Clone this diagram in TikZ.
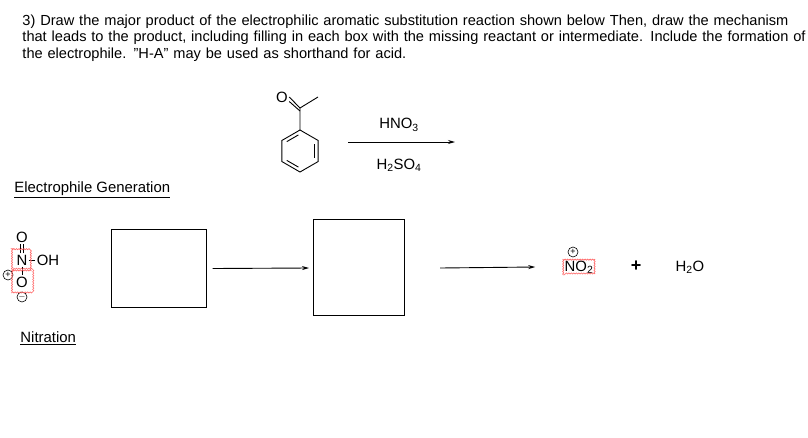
\documentclass[tikz,border=0pt]{standalone}
\usepackage{fontspec}
\setmainfont{Liberation Sans}
\usetikzlibrary{decorations.pathmorphing,calc,arrows.meta}
\begin{document}
\begin{tikzpicture}[x=1pt,y=-1pt,line width=0.9pt,
  txt/.style={inner sep=0pt,font=\fontsize{14.9}{16.5}\selectfont},
  atom/.style={inner sep=1pt,font=\fontsize{14.9}{16}\selectfont},
  chg/.style={circle,draw,line width=0.6pt,inner sep=0pt,minimum size=10pt,font=\fontsize{9}{9}\selectfont},
  wavy/.style={draw=red!60,line width=0.6pt,decorate,decoration={snake,amplitude=0.6pt,segment length=2.5pt}},
  box/.style={draw,line width=1pt},
  rxn/.style={-{Stealth[length=7pt,width=4pt]}}]
	\useasboundingbox (0,0) rectangle (808,437);
	\node[txt,font=\fontsize{14.6}{16.5}\selectfont,anchor=north west,align=left,text width=786pt] (q) at (22,14) {3) Draw the major product of the electrophilic aromatic substitution reaction shown below Then, draw the mechanism that leads to the product, including filling in each box with the missing reactant or intermediate. Include the formation of the electrophile. "H-A" may be used as shorthand for acid.};
	% acetophenone
	\foreach \i in {0,...,5} \coordinate (r\i) at ({300+21*sin(60*\i)},{151-21*cos(60*\i)});
	\draw (r0) -- (r1) -- (r2) -- (r3) -- (r4) -- (r5) -- cycle;
	\draw ($(r1)!0.18!(r2)+(-3.5,0)$) -- ($(r1)!0.82!(r2)+(-3.5,0)$);
	\draw ($(r3)!0.18!(r4)+(1.7,-3)$) -- ($(r3)!0.82!(r4)+(1.7,-3)$);
	\draw ($(r5)!0.18!(r0)+(1.7,3)$) -- ($(r5)!0.82!(r0)+(1.7,3)$);
	\coordinate (co) at (300,108);
	\coordinate (me) at (318,97);
	\node[atom] (o1) at (282,97) {O};
	\draw (r0) -- (co) -- (me);
	\draw (co) -- (o1.east);
	\draw ([yshift=-3pt]co) -- ([yshift=-4.5pt]o1.east);
	\coordinate (a0s) at (348,142);
	\coordinate (a0e) at (455,142);
	\draw[rxn] (a0s) -- (a0e);
	\node[txt] (hno3) at (399,125) {HNO\textsubscript{3}};
	\node[txt] (h2so4) at (399,165) {H\textsubscript{2}SO\textsubscript{4}};
	\node[txt,anchor=west] (eg) at (14,190) {\underline{Electrophile Generation}};
	% nitric acid
	\node[atom] (n) at (22,260) {N};
	\node[atom] (ot) at (22,237) {O};
	\node[atom] (oh) at (48,260) {OH};
	\node[atom] (ob) at (22,282) {O};
	\node[chg] (pl) at (8,275) {+};
	\node[chg] (mi) at (22,297) {$-$};
	\draw ([xshift=-1.4pt]n.north) -- ([xshift=-1.4pt]ot.south);
	\draw ([xshift=1.4pt]n.north) -- ([xshift=1.4pt]ot.south);
	\draw (n) -- (oh);
	\draw (n) -- (ob);
	\draw[wavy] (12,249) rectangle (33,270);
	\draw[wavy] (12,271) rectangle (33,293);
	% boxes and arrows
	\node[box,minimum width=95pt,minimum height=78pt] (b1) at (158.5,268.5) {};
	\node[box,minimum width=91pt,minimum height=96pt] (b2) at (358.5,267.5) {};
	\coordinate (a1e) at (309,268);
	\coordinate (a2s) at (440,268);
	\node[atom] (no2) at (579,267) {NO\textsubscript{2}};
	\draw[wavy] (no2.south west) rectangle (no2.north east);
	\node[chg] (pl2) at (573,252) {+};
	\draw[rxn] ([xshift=6pt]b1.east) -- (a1e);
	\draw[rxn] (a2s) -- ([xshift=-28pt]no2.west);
	\node[txt,font=\fontsize{18}{18}\bfseries] (plus) at (636,266) {+};
	\node[atom] (h2o) at (690,267) {H\textsubscript{2}O};
	\node[txt,anchor=west] (nit) at (20,338) {\underline{Nitration}};
\end{tikzpicture}
\end{document}
